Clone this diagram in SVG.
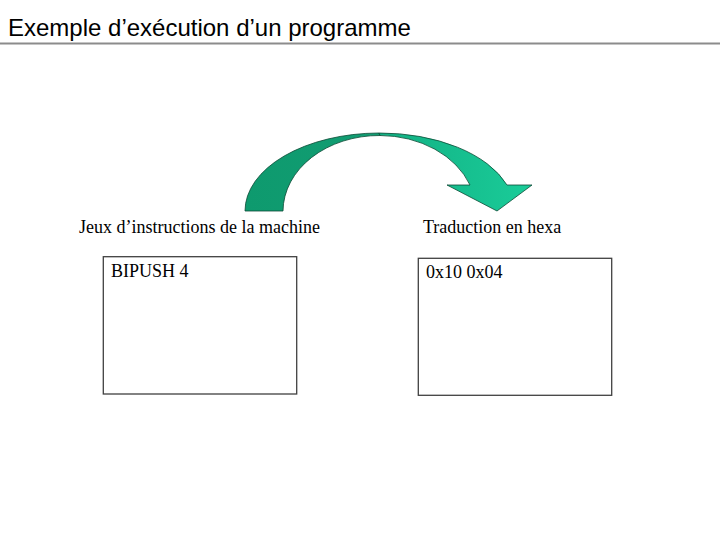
<svg xmlns="http://www.w3.org/2000/svg" width="720" height="540" viewBox="0 0 720 540">
<defs>
<linearGradient id="gDark" x1="245" y1="0" x2="380" y2="0" gradientUnits="userSpaceOnUse">
<stop offset="0" stop-color="#0E9A6E"/>
<stop offset="1" stop-color="#129D73"/>
</linearGradient>
<linearGradient id="gLight" x1="380" y1="0" x2="532" y2="0" gradientUnits="userSpaceOnUse">
<stop offset="0" stop-color="#12B083"/>
<stop offset="1" stop-color="#1ACC99"/>
</linearGradient>
<style>
.title{font-family:"Liberation Sans",Arial,sans-serif;font-size:24px;fill:#000}
.lbl{font-family:"Liberation Serif","Times New Roman",serif;font-size:18px;fill:#000}
.box{fill:#fff;stroke:#404040;stroke-width:1.3}
.arr{stroke:#0B4A35;stroke-width:0.8;stroke-linejoin:round}
</style>
</defs>
<rect width="720" height="540" fill="#fff"/>
<g id="title">
<text class="title" x="8" y="36">Exemple d’exécution d’un programme</text>
<line x1="0" y1="43.5" x2="720" y2="43.5" stroke="#8c8c8c" stroke-width="2"/>
</g>
<g id="connectors">
<path class="arr" fill="url(#gDark)" d="M245,211 A134.8,78 0 0 1 379,133 L380,135.5 A96.4,76 0 0 0 283,211 Z"/>
<path class="arr" fill="url(#gLight)" d="M379,133 A134.8,78 0 0 1 507,185 L532,185 L497,211 L447,185 L470,185 A96.4,76 0 0 0 380,135.5 Z"/>
</g>
<g id="label-left">
<text class="lbl" x="79" y="233">Jeux d’instructions de la machine</text>
</g>
<g id="label-right">
<text class="lbl" x="423" y="233">Traduction en hexa</text>
</g>
<g id="box-left">
<rect class="box" x="103.3" y="256.7" width="193.4" height="137.3"/>
<text class="lbl" x="111" y="277">BIPUSH 4</text>
</g>
<g id="box-right">
<rect class="box" x="418.3" y="258.3" width="193.4" height="137"/>
<text class="lbl" x="426" y="278">0x10 0x04</text>
</g>
</svg>
